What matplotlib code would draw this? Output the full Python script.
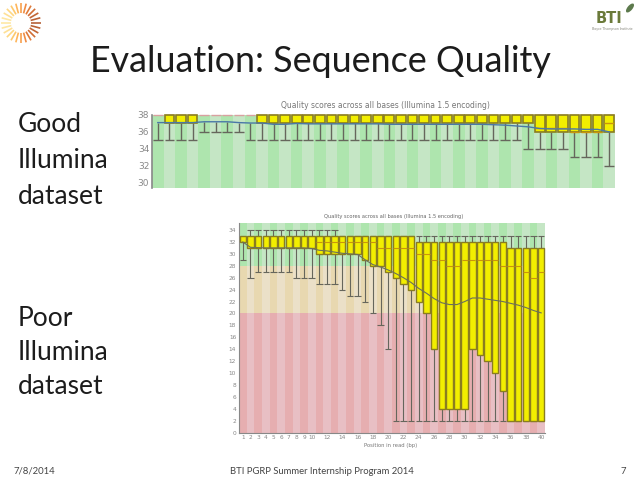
#!/usr/bin/env python

import matplotlib
matplotlib.use('Agg')
import matplotlib.pyplot as plt
from matplotlib.patches import Ellipse
import numpy as np

W, H = 638, 479
nan = float('nan')

positions = list(range(1, 41))

# good dataset
good_q1 = [nan] + [37]*3 + [nan]*5 + [37]*24 + [36]*7
good_q3 = [nan] + [38]*3 + [nan]*5 + [38]*31
good_med = [nan]*33 + [36.5, 36.5, 36.5, 36, 36, 36, 37]
good_low = [35]*4 + [36]*4 + [35]*24 + [34]*4 + [33]*3 + [32]
good_up = [38]*40
good_mean = [37.1, 37.1, 37.1, 37.1, 37.2, 37.2, 37.2, 37.1, 37.05, 37.05,
             36.9, 36.9, 37.0, 36.95, 36.95, 36.95, 36.95, 36.95, 36.95, 36.95,
             36.9, 36.9, 36.9, 36.9, 36.9, 36.9, 36.9, 36.9, 36.9, 36.85,
             36.8, 36.7, 36.6, 36.4, 36.35, 36.35, 36.35, 36.3, 36.3, 36.0]

# poor dataset
poor_q1 = [32] + [31]*9 + [30]*6 + [29, 28, 28, 27, 26, 25, 24, 22, 20, 14,
                                    4, 4, 4, 4, 14, 13, 12, 10, 7, 2, 2, 2, 2, 2]
poor_q3 = [33]*23 + [32]*12 + [31]*5
poor_med = [nan]*10 + [32]*8 + [31]*5 + [30, 30, 29, 29, 28, 28, 29, 29, 29, 29, 29,
                                         28, 28, 28, 27, 26, 27]
poor_low = [29, 26, 27, 27, 27, 27, 27, 26, 26, 26, 25, 25, 25, 24, 23, 23, 22, 20, 18, 14] + [2]*20
poor_up = [nan] + [34]*12 + [33]*27
poor_mean = [32, 31.1, 31.05, 31, 31, 31, 31, 31, 31, 30.9,
             30.6, 30.5, 30.3, 30.1, 30, 29.9, 29, 28.2, 27.8, 27.3,
             26.7, 26, 25.2, 24.2, 23.4, 22.5, 21.8, 21.5, 21.5, 22,
             22.6, 22.6, 22.4, 22.2, 22, 21.7, 21.4, 21, 20.5, 20.1]

poor_yticks = list(range(0, 36, 2))
poor_xticks = list(range(1, 11)) + list(range(12, 41, 2))
good_yticks = [30, 32, 34, 36, 38]

GREEN = ('#aee5ae', '#c5e6c5')
TAN = ('#e8d8b0', '#ebe0c8')
RED = ('#e6aeb0', '#e8bfc4')
YELLOW = '#f2ee00'
EDGE = '#8a7d20'
WHISK = '#66665c'
GREY = '#888888'

fig = plt.figure(figsize=(W/100, H/100), dpi=100)


def px_axes(left, top, right, bottom):
    return fig.add_axes([left/W, 1 - bottom/H, (right-left)/W, (bottom-top)/H])


def draw_panel(ax, q1, q3, med, low, up, mean, bands, ymin, ymax, mean_color, lw, up_color):
    x = np.array(positions)
    q1 = np.array(q1)
    q3 = np.array(q3)
    for i in x:
        for lo, hi, cols in bands:
            ax.bar(i, hi - lo, 1.0, lo, color=cols[(i+1) % 2], lw=0, zorder=1)
    # no box at a position: the whisker starts at the mean
    ax.vlines(x, low, np.where(np.isnan(q1), mean, q1), color=WHISK, lw=lw, zorder=2)
    ax.hlines(low, x-0.42, x+0.42, color=WHISK, lw=lw, zorder=2)
    ax.vlines(x, np.where(np.isnan(q3), up, q3), up, color=up_color, lw=lw, zorder=2)
    ax.hlines(up, x-0.42, x+0.42, color=up_color, lw=lw, zorder=2, clip_on=False)
    ax.bar(x, q3 - q1, 0.84, q1, color=YELLOW, edgecolor=EDGE, lw=lw+0.2, zorder=3, clip_on=False)
    ax.hlines(med, x-0.41, x+0.41, color='#c9950c', lw=lw, zorder=4)
    ax.plot(x, mean, color=mean_color, lw=lw, zorder=5)
    ax.set_xlim(0.5, 40.5)
    ax.set_ylim(ymin, ymax)
    ax.tick_params(length=0, colors=GREY)
    for s in ('top', 'right'):
        ax.spines[s].set_visible(False)
    for s in ('left', 'bottom'):
        ax.spines[s].set_color('#888888')


# good dataset panel
ax1 = px_axes(152, 115, 615, 188)
draw_panel(ax1, good_q1, good_q3, good_med, good_low, good_up, good_mean,
           [(29.36, 38, GREEN)], 29.36, 38, '#4a78a8', 1.0, '#d9a0a0')
ax1.set_xticks([])
ax1.set_yticks(good_yticks)
ax1.tick_params(axis='y', labelsize=6.5, pad=2)
ax1.spines['bottom'].set_visible(False)
ax1.spines['left'].set_linewidth(1.2)

# poor dataset panel
ax2 = px_axes(239, 223, 545, 432.7)
draw_panel(ax2, poor_q1, poor_q3, poor_med, poor_low, poor_up, poor_mean,
           [(0, 20, RED), (20, 28, TAN), (28, 35.18, GREEN)], 0, 35.18, '#6b705c', 0.8, WHISK)
ax2.set_xticks(poor_xticks)
ax2.set_yticks(poor_yticks[:-1] + [34])
ax2.tick_params(labelsize=4.2, pad=2)

fig.text(385/W, 1 - 106/H, 'Quality scores across all bases (Illumina 1.5 encoding)',
         fontsize=5.5, color='#777777', ha='center', va='center')
fig.text(394/W, 1 - 217/H, 'Quality scores across all bases (Illumina 1.5 encoding)',
         fontsize=3.7, color='#666666', ha='center', va='center')
fig.text(391/W, 1 - 445/H, 'Position in read (bp)', fontsize=3.8, color='#777777',
         ha='center', va='center')

# slide text
fig.text(320/W, 1 - 61/H, 'Evaluation: Sequence Quality', family='Lato', fontsize=25.8,
         color='#1c1c1c', ha='center', va='center')
for txt, yy in [('Good', 125), ('Illumina', 160), ('dataset', 196),
                ('Poor', 318), ('Illumina', 353), ('dataset', 387)]:
    fig.text(18/W, 1 - yy/H, txt, family='Lato', fontsize=19, color='#1c1c1c',
             ha='left', va='center')
fig.text(13/W, 1 - 471/H, '7/8/2014', family='Lato', fontsize=6.8, color='#444444', va='center')
fig.text(322/W, 1 - 471/H, 'BTI PGRP Summer Internship Program 2014', family='Lato', fontsize=6.8,
         color='#444444', ha='center', va='center')
fig.text(623/W, 1 - 471/H, '7', family='Lato', fontsize=6.8, color='#444444', ha='center', va='center')

# logos, drawn in pixel coordinates
logo = fig.add_axes([0, 0, 1, 1])
logo.set_xlim(0, W)
logo.set_ylim(H, 0)
logo.axis('off')
logo.patch.set_alpha(0)
ray_angles = np.linspace(0, 2*np.pi, 24, endpoint=False)
sun_colors = plt.get_cmap('YlOrBr')
for a in ray_angles:
    c = sun_colors(0.25 + 0.6*(0.5 + 0.5*np.cos(a)))
    logo.plot([21 + 10*np.cos(a), 21 + 20*np.cos(a)], [23 + 10*np.sin(a), 23 + 20*np.sin(a)],
              color=c, lw=1.2, alpha=0.8, solid_capstyle='butt')
logo.text(609, 18.5, 'BTI', family='DejaVu Sans', weight='bold', fontsize=10.5, color='#6b7a3a',
          ha='center', va='center')
logo.add_patch(Ellipse((630, 8), 5, 11, angle=40, color='#5d7a4d', lw=0))
logo.text(612, 29, 'Boyce Thompson Institute', family='Lato', fontsize=2.5, color='#8a8a80',
          ha='center', va='center')

plt.savefig('out.png', dpi=100)
